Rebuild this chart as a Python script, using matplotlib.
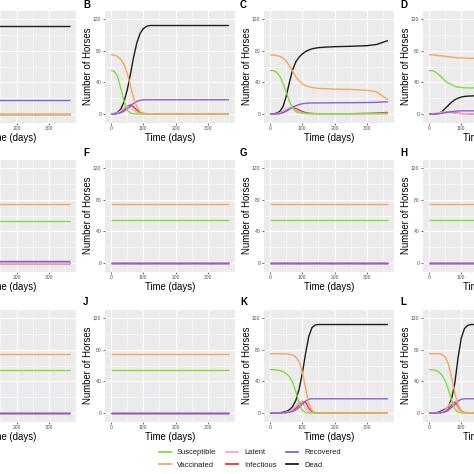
import matplotlib.pyplot as plt
from matplotlib.lines import Line2D

# day grid used for the epidemic panels
days = [0, 10, 20, 30, 40, 50, 60, 70, 80, 90, 100, 110, 120, 130, 140, 150,
        175, 200, 250, 300, 330, 365]
flat_days = [0, 365]

# panel B (A shows the same run)
b_sus = [55, 54, 48, 33, 17, 5, 1, 0.3, 0, 0, 0, 0, 0, 0, 0, 0, 0, 0, 0, 0, 0, 0]
b_vac = [75, 74.5, 73, 69, 63, 52, 36, 20, 9, 3, 1, 0.3, 0, 0, 0, 0, 0, 0, 0, 0, 0, 0]
b_lat = [0, 0.5, 1.5, 4, 7.5, 10, 9, 5, 2, 0.7, 0.2, 0, 0, 0, 0, 0, 0, 0, 0, 0, 0, 0]
b_inf = [0, 0.2, 0.8, 2.5, 5.5, 9.5, 11.5, 9, 5, 2, 0.7, 0.2, 0, 0, 0, 0, 0, 0, 0, 0, 0, 0]
b_rec = [0, 0.1, 0.5, 1.5, 3.5, 6.5, 10, 13.5, 16, 17.3, 17.8, 18, 18, 18, 18, 18, 18, 18, 18, 18, 18, 18]
b_dead = [0, 0.5, 2, 6, 15, 30, 50, 72, 90, 102, 108, 111, 112, 112, 112, 112, 112, 112, 112, 112, 112, 112]

# panel C
c_sus = [55, 55, 53, 48, 39, 28, 16, 7, 3, 1.5, 1, 0.5, 0.3, 0.2, 0.2, 0.2, 0.2, 0.2, 0.2, 0.2, 0.2, 0.2]
c_vac = [75, 74.5, 74, 73, 71, 67, 61, 54, 47, 42, 38, 36, 34.5, 33.5, 33, 32.5, 32, 31.5, 31, 30, 28, 18]
c_lat = [0, 0, 0.5, 1.5, 3.5, 6, 7.5, 7, 5, 3, 1.5, 0.8, 0.4, 0.3, 0.2, 0.2, 0.2, 0.2, 0.2, 0.3, 0.5, 0.8]
c_inf = [0, 0, 0.2, 0.8, 2, 4.5, 7, 8, 7, 5, 3, 1.8, 1, 0.7, 0.5, 0.4, 0.4, 0.4, 0.4, 0.8, 1.2, 2]
c_rec = [0, 0, 0.2, 0.5, 1.5, 3.5, 6, 8.5, 10.5, 12, 13, 13.5, 13.8, 14, 14, 14, 14.1, 14.2, 14.3, 14.5, 14.8, 15.5]
c_dead = [0, 0.2, 1, 3, 9, 22, 40, 56, 66, 72, 76, 79, 81, 82.5, 83.3, 84, 84.7, 85.2, 85.7, 86.5, 88, 93]

# panel D
d_sus = [55, 55, 53, 50, 46, 42, 39, 37, 35, 34, 33.5, 33.2, 33, 33, 33, 33, 33, 33, 33, 33, 33, 33]
d_vac = [75, 75, 74.5, 74, 73.5, 73, 72.5, 72, 71.5, 71.2, 71, 70.8, 70.6, 70.5, 70.5, 70.5, 70.5, 70.5, 70.5, 70.5, 70.5, 70.5]
d_lat = [0, 0, 0.5, 1.5, 2.5, 2.5, 2, 1.5, 1, 0.7, 0.5, 0.3, 0.2, 0.1, 0, 0, 0, 0, 0, 0, 0, 0]
d_inf = [0, 0, 0.1, 0.5, 1.5, 2.5, 2.5, 2, 1.5, 1, 0.6, 0.4, 0.2, 0.1, 0, 0, 0, 0, 0, 0, 0, 0]
d_rec = [0, 0, 0.1, 0.3, 0.8, 1.5, 2.2, 3, 3.5, 3.8, 3.9, 4, 4, 4, 4, 4, 4, 4, 4, 4, 4, 4]
d_dead = [0, 0, 0.2, 1, 3, 7, 11, 15, 18, 20, 21.5, 22.2, 22.6, 22.8, 23, 23, 23.2, 23.3, 23.5, 23.5, 23.5, 23.5]

# panel K
k_sus = [55, 55, 54.5, 54, 52.5, 50, 46, 39, 27, 13, 3, 0.5, 0, 0, 0, 0, 0, 0, 0, 0, 0, 0]
k_vac = [75, 75, 75, 75, 74.9, 74.8, 74.5, 73.5, 71, 65, 52, 32, 12, 3, 0.5, 0, 0, 0, 0, 0, 0, 0]
k_lat = [0, 0, 0.1, 0.3, 0.5, 1, 2, 4.5, 9, 14, 13, 6, 1.5, 0.3, 0, 0, 0, 0, 0, 0, 0, 0]
k_inf = [0, 0, 0, 0.1, 0.3, 0.5, 1.5, 3, 6, 10, 14, 14, 6, 1.5, 0.3, 0, 0, 0, 0, 0, 0, 0]
k_rec = [0, 0, 0, 0.1, 0.3, 0.5, 1, 2, 4, 7, 11, 15, 17.5, 18, 18, 18, 18, 18, 18, 18, 18, 18]
k_dead = [0, 0, 0.1, 0.3, 1, 2, 4, 8, 16, 30, 50, 75, 97, 108, 111.5, 112, 112, 112, 112, 112, 112, 112]

# panel L
l_sus = [55, 54.5, 54, 52, 48, 41, 30, 16, 5, 1, 0, 0, 0, 0, 0, 0, 0, 0, 0, 0, 0, 0]
l_vac = [75, 75, 75, 75, 74, 71, 62, 45, 25, 10, 3, 0.5, 0, 0, 0, 0, 0, 0, 0, 0, 0, 0]
l_lat = [0, 0, 0.2, 0.5, 1.5, 4, 9, 14, 12, 5, 1, 0, 0, 0, 0, 0, 0, 0, 0, 0, 0, 0]
l_inf = [0, 0, 0, 0.2, 0.5, 2, 5, 10, 14, 9, 2.5, 0.5, 0, 0, 0, 0, 0, 0, 0, 0, 0, 0]
l_rec = [0, 0, 0, 0.2, 0.5, 1.5, 3.5, 7, 11, 15, 17.5, 18, 18, 18, 18, 18, 18, 18, 18, 18, 18, 18]
l_dead = [0, 0, 0.3, 1, 3, 5, 8, 18, 38, 70, 95, 107, 111, 112, 112, 112, 112, 112, 112, 112, 112, 112]

# flat panels (no outbreak)
e_sus, e_vac, e_lat, e_inf, e_rec, e_dead = [53, 53], [75, 75], [0.2, 0.2], [0.3, 0.3], [2.2, 2.2], [0, 0]
n_sus, n_vac, n_lat, n_inf, n_rec, n_dead = [55, 55], [75, 75], [0, 0], [0, 0], [0, 0], [0, 0]

labels = ['Susceptible', 'Vaccinated', 'Latent', 'Infectious', 'Recovered', 'Dead']
colors = {'Susceptible': '#7FE03C', 'Vaccinated': '#F5A75A', 'Latent': '#F5A9CF',
          'Infectious': '#E0353D', 'Recovered': '#8E5CE0', 'Dead': '#1E1E1E'}
draw_order = ['Dead', 'Infectious', 'Latent', 'Recovered', 'Susceptible', 'Vaccinated']


def series(s, v, la, i, r, d):
    return {'Susceptible': s, 'Vaccinated': v, 'Latent': la,
            'Infectious': i, 'Recovered': r, 'Dead': d}


b_run = series(b_sus, b_vac, b_lat, b_inf, b_rec, b_dead)
flat_run = series(n_sus, n_vac, n_lat, n_inf, n_rec, n_dead)
# (letter, column, row, x values, series)
panels = [
    ('A', 0, 0, days, b_run),
    ('B', 1, 0, days, b_run),
    ('C', 2, 0, days, series(c_sus, c_vac, c_lat, c_inf, c_rec, c_dead)),
    ('D', 3, 0, days, series(d_sus, d_vac, d_lat, d_inf, d_rec, d_dead)),
    ('E', 0, 1, flat_days, series(e_sus, e_vac, e_lat, e_inf, e_rec, e_dead)),
    ('F', 1, 1, flat_days, flat_run),
    ('G', 2, 1, flat_days, flat_run),
    ('H', 3, 1, flat_days, flat_run),
    ('I', 0, 2, flat_days, flat_run),
    ('J', 1, 2, flat_days, flat_run),
    ('K', 2, 2, days, series(k_sus, k_vac, k_lat, k_inf, k_rec, k_dead)),
    ('L', 3, 2, days, series(l_sus, l_vac, l_lat, l_inf, l_rec, l_dead)),
]

W = H = 474.0
fig = plt.figure(figsize=(4.74, 4.74), dpi=100)
plt.rcParams['font.family'] = ['Liberation Sans', 'DejaVu Sans']

day0_px = [-48, 111, 270, 429]   # x pixel of day 0 in each column
zero_px = [114, 263, 413]        # y pixel of 0 horses in each row
px_day = 0.323
px_horse = 0.79
label_x = [-76, 83, 240, 400]
label_y = [5, 153, 302]

for letter, col, row, xs, runs in panels:
    left = day0_px[col] - 18.25 * px_day
    top = zero_px[row] - 131 * px_horse
    w = 401.5 * px_day
    h = 142 * px_horse
    ax = fig.add_axes([left / W, 1 - (top + h) / H, w / W, h / H])
    ax.set_facecolor('#EBEBEB')
    for name in draw_order:
        ax.plot(xs, runs[name], color=colors[name], lw=1.0, solid_capstyle='butt')
    ax.set_xlim(-18.25, 383.25)
    ax.set_ylim(-11, 131)
    ax.set_xticks([0, 100, 200, 300])
    ax.set_yticks([0, 40, 80, 120])
    ax.set_xticks([50, 150, 250, 350], minor=True)
    ax.set_yticks([20, 60, 100], minor=True)
    ax.grid(which='major', color='white', lw=0.8)
    ax.grid(which='minor', color='white', lw=0.4)
    ax.set_axisbelow(True)
    for sp in ax.spines.values():
        sp.set_visible(False)
    ax.tick_params(which='major', length=1.5, width=0.5, color='#333333',
                   labelsize=3.6, labelcolor='#4D4D4D', pad=1.2)
    ax.tick_params(which='minor', length=0)
    ax.set_xlabel('Time (days)', fontsize=6.9, va='center')
    ax.xaxis.set_label_coords(0.5, -15.5 / h)
    ax.set_ylabel('Number of Horses', fontsize=6.9, va='center')
    ax.yaxis.set_label_coords(-17 / w, 0.5)
    fig.text(label_x[col] / W, 1 - label_y[row] / H, letter, fontsize=7,
             fontweight='bold', ha='left', va='center')

handles = [Line2D([], [], color=colors[n], lw=1.3) for n in labels]
fig.legend(handles, labels, ncol=3, loc='center', bbox_to_anchor=(250 / W, 1 - 459 / H),
           frameon=False, fontsize=5.4, handlelength=1.6, handletextpad=0.8,
           columnspacing=1.3, labelspacing=0.75, labelcolor='#1A1A1A')

fig.savefig('out.png', dpi=100)
